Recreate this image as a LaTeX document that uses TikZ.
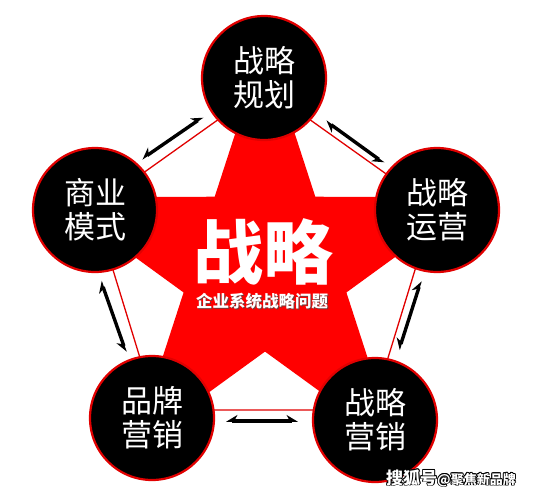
\documentclass[tikz,border=0pt]{standalone}
\usepackage{fontspec}
\newfontfamily\cjk{Noto Sans CJK SC}
\usetikzlibrary{arrows.meta,calc}
\definecolor{starred}{RGB}{255,0,0}
\definecolor{rimred}{RGB}{225,0,0}
\newcommand{\wmtext}{{\fontsize{17}{17}\selectfont 搜狐号}{\fontsize{13}{13}\selectfont @聚焦新品牌}}
\begin{document}
\begin{tikzpicture}[x=1pt,y=-1pt,
  circ/.style={circle,fill=black,draw=rimred,line width=2.2pt,minimum size=124pt,inner sep=0pt,
    text=white,font=\cjk\fontsize{31}{34}\selectfont,align=center},
  edgeline/.style={draw=rimred,line width=1.3pt},
  biarrow/.style={line width=3.4pt,
    {Stealth[harpoon,length=10pt,width=12pt]}-{Stealth[harpoon,swap,length=10pt,width=12pt]}},
  wm/.style={font=\cjk\bfseries,inner sep=0pt}]
\useasboundingbox (0,0) rectangle (536,495);
\fill[white] (0,0) rectangle (536,495);
% star
\begin{scope}[shift={(265,266)}]
\fill[starred] (-90:224) -- (-54:85.6) -- (-18:224) -- (18:85.6) -- (54:224) -- (90:85.6)
  -- (126:224) -- (162:85.6) -- (198:224) -- (234:85.6) -- cycle;
\end{scope}
% pentagon
\coordinate (p1) at (264,87);
\coordinate (p2) at (434,208);
\coordinate (p3) at (372,410);
\coordinate (p4) at (156,410);
\coordinate (p5) at (94,208);
\draw[edgeline] (p1) -- (p2) -- (p3) -- (p4) -- (p5) -- cycle;
% circles
\node[circ] (top) at (264,78) {战略\\规划};
\node[circ] (left) at (95,210) {商业\\模式};
\node[circ] (right) at (437,210) {战略\\运营};
\node[circ] (bl) at (152,418) {品牌\\营销};
\node[circ] (br) at (375,420) {战略\\营销};
% arrows
\coordinate (a1s) at (203,117); \coordinate (a1e) at (142,159);
\coordinate (a2s) at (326,121); \coordinate (a2e) at (384,163);
\coordinate (a3s) at (101,281); \coordinate (a3e) at (126,352);
\coordinate (a4s) at (298,421); \coordinate (a4e) at (226,421);
\coordinate (a5s) at (421,281); \coordinate (a5e) at (399,350);
\draw[biarrow] (a1s) -- (a1e);
\draw[biarrow] (a2s) -- (a2e);
\draw[biarrow] (a3s) -- (a3e);
\draw[biarrow] (a4s) -- (a4e);
\draw[biarrow] (a5s) -- (a5e);
% center text
\node[text=white,font=\cjk\bfseries\fontsize{70}{70}\selectfont,inner sep=0pt] (title) at (263,252) {战略};
\node[text=black!70,opacity=0.8,font=\cjk\bfseries\fontsize{16.5}{17}\selectfont,inner sep=0pt] at (263.2,302.2) {企业系统战略问题};
\node[text=white,font=\cjk\bfseries\fontsize{16.5}{17}\selectfont,inner sep=0pt] (sub) at (262,301) {企业系统战略问题};
% watermark
\foreach \dx/\dy in {-0.8/0,0.8/0,0/-0.8,0/0.8,-0.6/-0.6,0.6/0.6,-0.6/0.6,0.6/-0.6}
  \node[wm,text=black] at (451+\dx,478+\dy) {\wmtext};
\node[wm,text=white] (water) at (451,478) {\wmtext};
\end{tikzpicture}
\end{document}
